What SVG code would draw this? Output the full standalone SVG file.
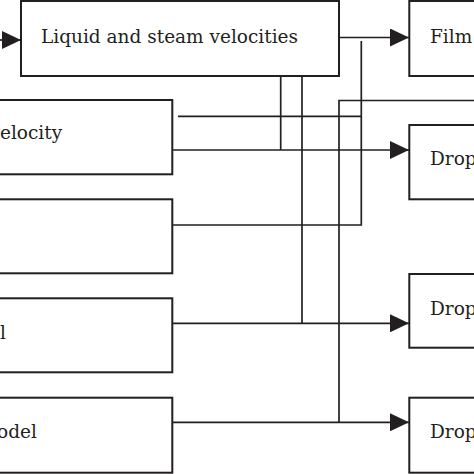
<svg xmlns="http://www.w3.org/2000/svg" width="474" height="474" viewBox="0 0 474 474">
<style>
.box{fill:#fff;stroke:#231f20;stroke-width:2}
.lbl{font-family:"DejaVu Serif","Liberation Serif",serif;font-size:18.5px;fill:#231f20}
.ln{fill:none;stroke:#231f20;stroke-width:1.7}
</style>
<defs>
<marker id="ah" markerUnits="userSpaceOnUse" markerWidth="19" markerHeight="18" refX="19" refY="9" orient="auto">
<path d="M0,0 L19,9 L0,18 z" fill="#231f20"/>
</marker>
</defs>
<rect width="474" height="474" fill="#fff"/>
<g id="connectors">
<path class="ln" d="M-5 40 H21" marker-end="url(#ah)"/>
<path class="ln" d="M339 37.5 H409" marker-end="url(#ah)"/>
<path class="ln" d="M280.7 76 V150"/>
<path class="ln" d="M302 76 V323"/>
<path class="ln" d="M361.3 41 V225 H172"/>
<path class="ln" d="M178 116.3 H361.3"/>
<path class="ln" d="M172 150 H409" marker-end="url(#ah)"/>
<path class="ln" d="M480 100.5 H339 V422.3"/>
<path class="ln" d="M172 323.3 H409" marker-end="url(#ah)"/>
<path class="ln" d="M172 422.3 H409" marker-end="url(#ah)"/>
</g>
<g id="n-velocities"><rect class="box" x="21" y="1" width="318" height="75"/><text class="lbl" x="41" y="43" textLength="257" lengthAdjust="spacingAndGlyphs">Liquid and steam velocities</text></g>
<g id="n-velocity"><rect class="box" x="-10" y="100" width="182.3" height="74.3"/><text class="lbl" x="0" y="139">elocity</text></g>
<g id="n-left3"><rect class="box" x="-10" y="199.3" width="182.3" height="74"/></g>
<g id="n-left4"><rect class="box" x="-10" y="298.3" width="182.3" height="74"/><text class="lbl" x="0" y="339">l</text></g>
<g id="n-model"><rect class="box" x="-10" y="397.7" width="182.3" height="75"/><text class="lbl" x="-3" y="438">odel</text></g>
<g id="n-film"><rect class="box" x="409.3" y="1" width="80" height="75"/><text class="lbl" x="430" y="43">Film</text></g>
<g id="n-drop1"><rect class="box" x="409.3" y="125" width="80" height="74.3"/><text class="lbl" x="430" y="165">Drop</text></g>
<g id="n-drop2"><rect class="box" x="409.3" y="274" width="80" height="73.7"/><text class="lbl" x="430" y="315">Drop</text></g>
<g id="n-drop3"><rect class="box" x="409.3" y="397.7" width="80" height="75"/><text class="lbl" x="430" y="438">Drop</text></g>
</svg>
